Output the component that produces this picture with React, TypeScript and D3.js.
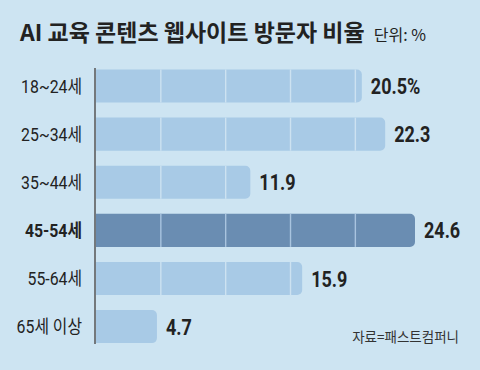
import React from "react";
import * as d3 from "d3";

const categories = ["18~24세", "25~34세", "35~44세", "45-54세", "55-64세", "65세 이상"];
const values = [20.5, 22.3, 11.9, 24.6, 15.9, 4.7];
const valueLabels = ["20.5%", "22.3", "11.9", "24.6", "15.9", "4.7"];
const highlight = "45-54세";
const gridTicks = [5, 10, 15, 20];

const W = 480;
const H = 370;
const KR = "'Noto Sans CJK KR', sans-serif";
const NARROW = "Roboto, 'Noto Sans CJK KR', sans-serif";

const App: React.FC = () => {
  const x = d3.scaleLinear().domain([0, 24.6]).range([96, 415]);
  const y = d3
    .scaleBand<string>()
    .domain(categories)
    .range([69.5, 343.1])
    .paddingInner(0.3125)
    .paddingOuter(0);
  const bh = y.bandwidth();
  const r = 5;

  // bar with rounded right end only
  const barPath = (x0: number, x1: number, y0: number, h: number) => {
    const p = d3.path();
    p.moveTo(x0, y0);
    p.lineTo(x1 - r, y0);
    p.arcTo(x1, y0, x1, y0 + r, r);
    p.lineTo(x1, y0 + h - r);
    p.arcTo(x1, y0 + h, x1 - r, y0 + h, r);
    p.lineTo(x0, y0 + h);
    p.closePath();
    return p.toString();
  };

  return (
    <svg
      width={W}
      height={H}
      style={{ position: "absolute", left: 0, top: 0, display: "block" }}
      fontFamily={KR}
    >
      <rect width={W} height={H} fill="#cde4f2" />
      <text x={20} y={41} fontSize={23} fontWeight="bold" fill="#222">
        AI 교육 콘텐츠 웹사이트 방문자 비율
        <tspan dx={9} fontSize={16} fontWeight="normal">
          단위: %
        </tspan>
      </text>

      {categories.map((c, i) => {
        const y0 = y(c) as number;
        const cy = y0 + bh / 2;
        const x1 = x(values[i]);
        const hl = c === highlight;
        return (
          <g key={c}>
            <path d={barPath(x(0), x1, y0, bh)} fill={hl ? "#6a8db2" : "#a8cae6"} />
            {gridTicks
              .filter((t) => x(t) < x1 - 3)
              .map((t) => (
                <line
                  key={t}
                  x1={x(t)}
                  x2={x(t)}
                  y1={y0}
                  y2={y0 + bh}
                  stroke={hl ? "#a9c4df" : "#cde2f1"}
                  strokeWidth={1.4}
                />
              ))}
            <text
              transform={`translate(82,${cy}) scale(0.88,1)`}
              dy="0.36em"
              textAnchor="end"
              fontFamily={NARROW}
              fontSize={18}
              fontWeight={hl ? "bold" : "normal"}
              fill="#222"
            >
              {c}
            </text>
            <text
              transform={`translate(${x1 + 9},${cy}) scale(0.8,1)`}
              dy="0.36em"
              fontFamily={NARROW}
              fontSize={22.5}
              fontWeight="bold"
              fill="#222"
            >
              {valueLabels[i]}
            </text>
          </g>
        );
      })}

      <line x1={95} x2={95} y1={68} y2={344} stroke="#555" strokeWidth={1.5} />

      <text x={459} y={342} textAnchor="end" fontSize={13.5} fill="#333">
        자료=패스트컴퍼니
      </text>
    </svg>
  );
};

export default App;
